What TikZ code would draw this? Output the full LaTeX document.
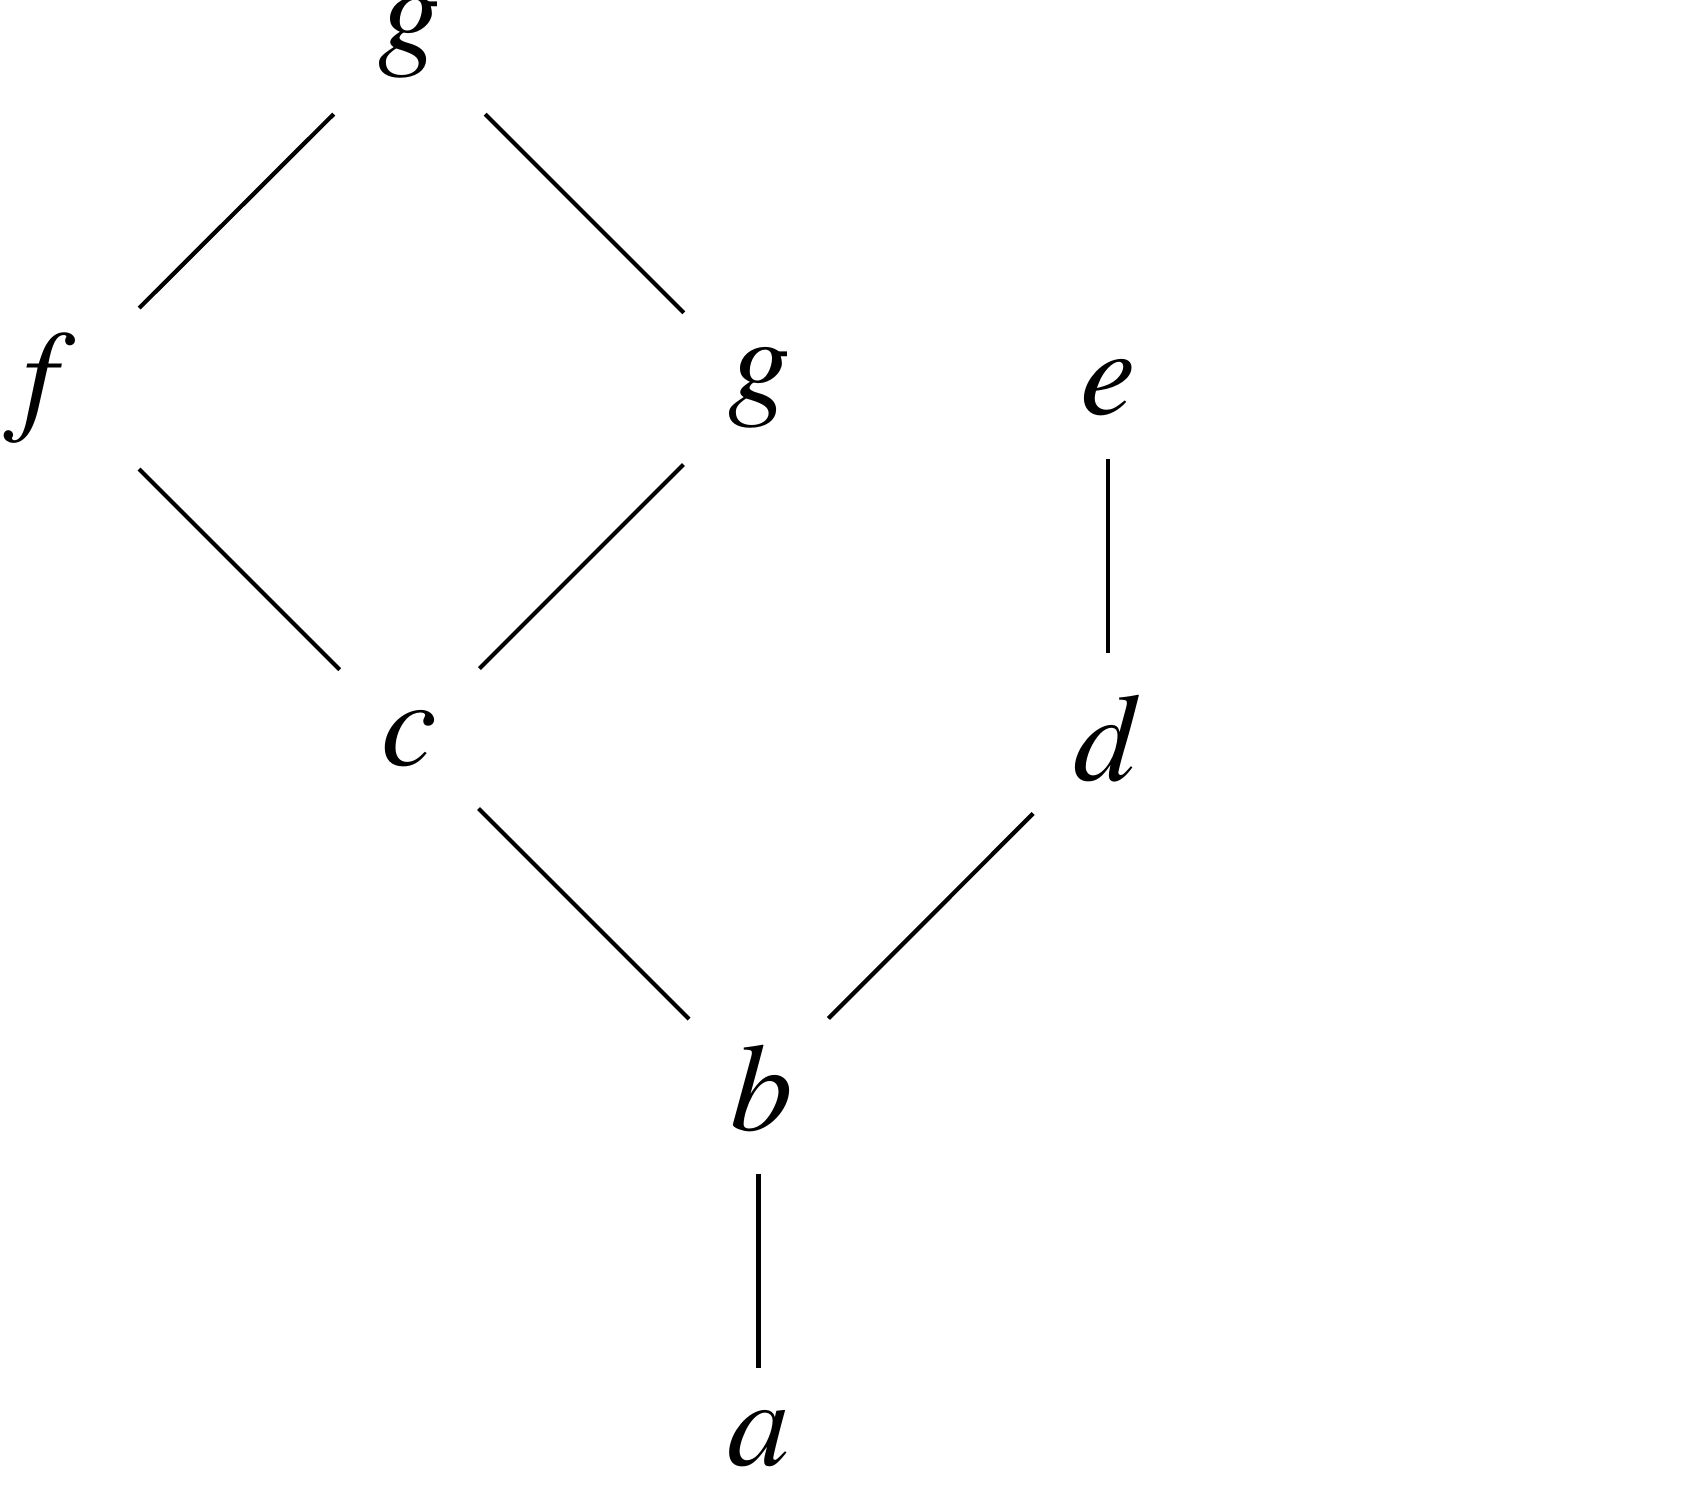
\documentclass[tikz,border=0pt]{standalone}
\usepackage{mathptmx}
\begin{document}
\begin{tikzpicture}[x=0.1pt,y=-0.1pt,
  lbl/.style={inner sep=0pt,font=\fontsize{12.5}{14}\selectfont},
  edge/.style={line width=0.42pt,black}]
\useasboundingbox (0,0) rectangle (1704,1494);
\node[lbl] (gt) at (409.5,38.5) {$g$};
\node[lbl] (f)  at (58.5,388.5) {\kern-1.85pt$f$\kern1.85pt};
\node[lbl] (g2) at (759.5,388.5) {$g$};
\node[lbl] (e)  at (1108,388.5) {$e$};
\node[lbl] (c)  at (409,739) {$c$};
\node[lbl] (d)  at (1108,738.5) {$d$};
\node[lbl] (b)  at (758.5,1088.5) {\kern0.3pt$b$\kern-0.3pt};
\node[lbl] (a)  at (758.5,1439) {$a$};
\draw[edge,shorten <=10.7pt,shorten >=11.4pt] (gt.center) -- (f.center);
\draw[edge,shorten <=10.7pt,shorten >=10.7pt] (gt.center) -- (g2.center);
\draw[edge,shorten <=11.4pt,shorten >=9.8pt] (f.center) -- (c.center);
\draw[edge,shorten <=10.75pt,shorten >=9.97pt] (g2.center) -- (c.center);
\draw[edge,shorten <=7pt,shorten >=8.6pt] (e.center) -- (d.center);
\draw[edge,shorten <=9.83pt,shorten >=9.83pt] (c.center) -- (b.center);
\draw[edge,shorten <=10.6pt,shorten >=9.9pt] (d.center) -- (b.center);
\draw[edge,shorten <=8.5pt,shorten >=7.1pt] (b.center) -- (a.center);
\end{tikzpicture}
\end{document}
